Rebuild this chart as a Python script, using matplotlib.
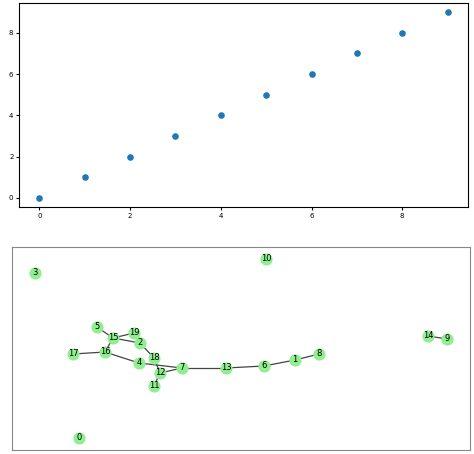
import matplotlib
matplotlib.use("Agg")
import matplotlib.pyplot as plt

xs = list(range(10))
ys = list(range(10))

nodes = list(range(20))
pos_x = [79, 295, 140, 35, 139, 97, 264, 182, 319, 447, 266, 154, 160, 226, 428, 113, 105, 73, 154, 134]
pos_y = [438, 360, 343, 273, 363, 327, 366, 368, 354, 339, 259, 386, 373, 368, 336, 338, 352, 354, 358, 333]
edges = [(5, 15), (15, 19), (15, 2), (15, 16), (2, 18), (18, 12), (12, 11), (12, 7),
         (4, 7), (16, 4), (17, 16), (7, 13), (13, 6), (6, 1), (1, 8), (14, 9)]

W, H = 474, 454
fig = plt.figure(figsize=(W/100, H/100), dpi=100)
ax1 = fig.add_axes([19/W, 1-207/H, 449/W, 204/H])
ax1.scatter(xs, ys, s=14, color='#1f77b4')
ax1.tick_params(labelsize=5, length=2, pad=2)
ax1.set_xticks([0, 2, 4, 6, 8])
ax1.set_yticks([0, 2, 4, 6, 8])

ax2 = fig.add_axes([12/W, 1-450/H, 458/W, 203/H])
for a, b in edges:
    ax2.plot([pos_x[a], pos_x[b]], [pos_y[a], pos_y[b]], color='#444444', lw=0.9, zorder=1)
ax2.scatter(pos_x, pos_y, s=60, color='#90ee90', zorder=2)
for n in nodes:
    ax2.text(pos_x[n], pos_y[n], str(n), fontsize=6, ha='center', va='center', zorder=3)
ax2.set_xlim(12, 470)
ax2.set_ylim(450, 247)
ax2.set_xticks([]); ax2.set_yticks([])
for s in ax2.spines.values():
    s.set_color('#888888')

fig.savefig("out.png", dpi=100)
